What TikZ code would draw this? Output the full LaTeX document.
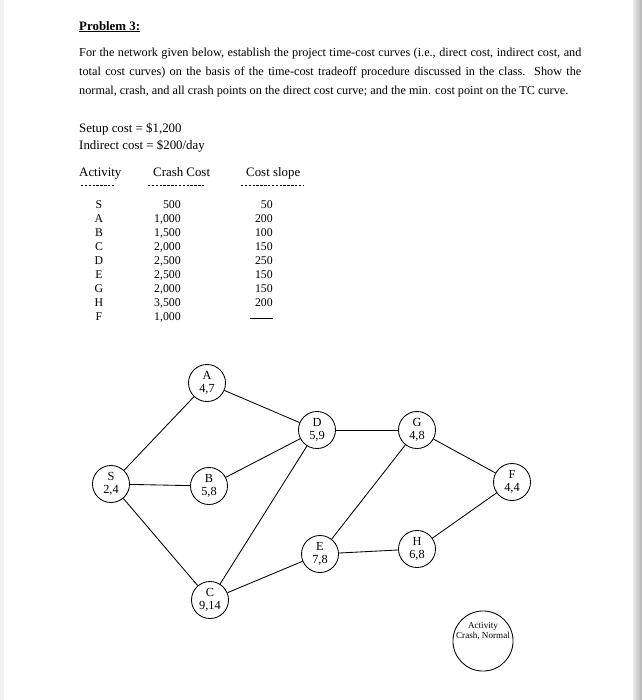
\documentclass[tikz,border=0pt]{standalone}
\usepackage{fontspec}
\setmainfont{Liberation Serif}
\usetikzlibrary{positioning}

\begin{document}
\begin{tikzpicture}[x=0.932pt, y=-0.932pt,
    txt/.style={anchor=base west, inner sep=0pt, font=\fontsize{12}{14}\selectfont},
    para/.style={anchor=base west, inner sep=0pt, font=\fontsize{11.4}{14}\selectfont},
    rowtxt/.style={inner sep=0pt, font=\fontsize{11}{13}\selectfont},
    act/.style={draw, circle, line width=0.8pt, minimum size=34.5pt, inner sep=0pt, align=center, font=\fontsize{11.5}{12}\selectfont},
    dashrule/.style={line width=0.5pt, dash pattern=on 2.2pt off 1.4pt},
    link/.style={line width=0.8pt}]
    \useasboundingbox (0,0) rectangle (642,700);
    % page edges
    \fill[gray!12] (0,0) rectangle (4,700);
    \shade[left color=gray!15, right color=gray!60] (633,0) rectangle (642,700);
    % problem text
    \node[txt] (title) at (79,30) {\textbf{\underline{Problem 3:}}};
    \node[para] (line1) at (79,56) {\makebox[468pt][s]{For the network given below, establish the project time-cost curves (i.e., direct cost, indirect cost, and}};
    \node[para] (line2) at (79,75) {\makebox[468pt][s]{total cost curves) on the basis of the time-cost tradeoff procedure discussed in the class.\ \ Show the}};
    \node[para] (line3) at (79,94) {normal, crash, and all crash points on the direct cost curve; and the min. cost point on the TC curve.};
    \node[txt] (setup) at (79,132) {Setup cost = \$1,200};
    \node[txt] (indirect) at (79,149) {Indirect cost = \$200/day};
    % table
    \node[txt] (hact) at (79,176) {Activity};
    \node[txt] (hcrash) at (153,176) {Crash Cost};
    \node[txt] (hslope) at (246,176) {Cost slope};
    \draw[dashrule] (81,185) -- (115,185);
    \draw[dashrule] (148,185) -- (205,185);
    \draw[dashrule] (241,185) -- (303,185);
    \foreach \act/\crash/\slope [count=\i from 0] in {S/500/50, A/{1,000}/200, B/{1,500}/100, C/{2,000}/150, D/{2,500}/250, E/{2,500}/150, G/{2,000}/150, H/{3,500}/200, F/{1,000}/{\rule[1pt]{21pt}{0.5pt}}} {
        \node[rowtxt, anchor=base] (row\act) at (99,208+14*\i) {\act};
        \node[rowtxt, anchor=base east] (crash\act) at (181,208+14*\i) {\crash};
        \node[rowtxt, anchor=base east] (slope\act) at (273,208+14*\i) {\slope};
    }
    % network
    \node[act] (S) at (111,484) {S\\2,4};
    \node[act] (A) at (207,383) {A\\4,7};
    \node[act] (B) at (209,486) {B\\5,8};
    \node[act] (C) at (210,600) {C\\9,14};
    \node[act] (D) at (317,430) {D\\5,9};
    \node[act] (E) at (320,554) {E\\7,8};
    \node[act] (G) at (417,430) {G\\4,8};
    \node[act] (H) at (417,549) {H\\6,8};
    \node[act] (F) at (512,482) {F\\4,4};
    \foreach \a/\b in {S/A, S/B, S/C, A/D, B/D, C/D, C/E, D/G, E/G, E/H, G/F, H/F}
        \draw[link] (\a) -- (\b);
    % key
    \node[draw, circle, line width=0.8pt, minimum size=56pt, inner sep=0pt] (key) at (483,641) {};
    \node[align=center, inner sep=0pt, font=\fontsize{8.5}{9.5}\selectfont] (keytext) at ([yshift=9pt]key.center) {Activity\\Crash, Normal};
\end{tikzpicture}
\end{document}
